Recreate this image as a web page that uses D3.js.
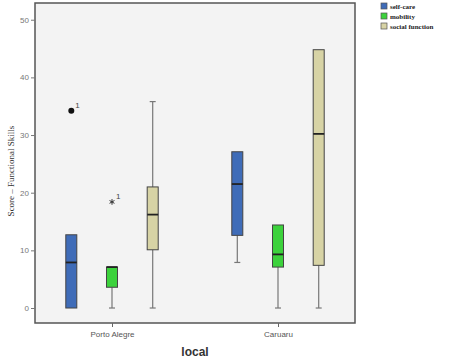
<!DOCTYPE html>
<html>
<head>
<meta charset="utf-8">
<script src="https://cdn.jsdelivr.net/npm/d3@7"></script>
<style>
  body { margin: 0; background: #fff; }
  svg { display: block; }
</style>
</head>
<body>
<svg id="chart" width="474" height="362"></svg>
<script>
// groups on the x axis and the three measures
var locals = ["Porto Alegre", "Caruaru"];
var measures = ["self-care", "mobility", "social function"];
var colors = ["#3f6cb8", "#3cd23c", "#d7d3a5"];

// five-number summaries: [lowWhisker, q1, median, q3, highWhisker]
var selfCare = [[0, 0, 7.9, 12.7, 12.7], [7.9, 12.6, 21.5, 27.1, 27.1]];
var mobility = [[0, 3.6, 7.1, 7.1, 7.1], [0, 7.1, 9.3, 14.4, 14.4]];
var socialFunction = [[0, 10.1, 16.2, 21.0, 35.8], [0, 7.4, 30.2, 44.8, 44.8]];

// outliers: [localIndex, measureIndex, value, kind, label]
var outliers = [[0, 0, 34.2, "circle", "1"], [0, 1, 18.4, "star", "1"]];

var yTicks = [0, 10, 20, 30, 40, 50];

var svg = d3.select("#chart");
var frame = { left: 35, top: 3, right: 355, bottom: 323 };

var y = d3.scaleLinear().domain([-2.6, 52.9]).range([frame.bottom, frame.top]);
var x = d3.scalePoint().domain(locals).range([112, 278]);
var xInner = d3.scalePoint().domain(measures).range([-40.7, 40.7]);

// plot background
svg.append("rect")
  .attr("x", frame.left).attr("y", frame.top)
  .attr("width", frame.right - frame.left).attr("height", frame.bottom - frame.top)
  .attr("fill", "#f3f3f3")
  .attr("stroke", "#555").attr("stroke-width", 1.5);

// y axis
var yAxis = d3.axisLeft(y).tickValues(yTicks).tickSize(4).tickPadding(2);
var gy = svg.append("g").attr("transform", "translate(" + frame.left + ",0)").call(yAxis);
gy.select(".domain").remove();
gy.selectAll("line").attr("stroke", "#777");
gy.selectAll("text").attr("fill", "#777").style("font", "8px 'Liberation Sans', Arial, sans-serif");

// x axis
var xAxis = d3.axisBottom(x).tickSize(4).tickPadding(4);
var gx = svg.append("g").attr("transform", "translate(0," + frame.bottom + ")").call(xAxis);
gx.select(".domain").remove();
gx.selectAll("line").attr("stroke", "#666");
gx.selectAll("text").attr("fill", "#555").style("font", "8px 'Liberation Sans', Arial, sans-serif");

// axis titles
svg.append("text")
  .attr("x", 195).attr("y", 356)
  .attr("text-anchor", "middle")
  .style("font", "bold 12px 'Liberation Sans', Arial, sans-serif")
  .attr("fill", "#333")
  .text("local");

svg.append("text")
  .attr("transform", "translate(14,171) rotate(-90)")
  .attr("text-anchor", "middle")
  .style("font", "9px 'Liberation Serif', 'Times New Roman', serif")
  .attr("fill", "#333")
  .text("Score – Functional Skills");

// boxes
var series = [selfCare, mobility, socialFunction];
var boxW = 11, capW = 6;

series.forEach(function(stats, m) {
  stats.forEach(function(s, l) {
    var cx = x(locals[l]) + xInner(measures[m]);
    var g = svg.append("g").attr("class", "box");

    // whiskers
    g.append("line")
      .attr("x1", cx).attr("x2", cx)
      .attr("y1", y(s[0])).attr("y2", y(s[1]))
      .attr("stroke", "#777").attr("stroke-width", 1.2);
    g.append("line")
      .attr("x1", cx).attr("x2", cx)
      .attr("y1", y(s[3])).attr("y2", y(s[4]))
      .attr("stroke", "#777").attr("stroke-width", 1.2);
    if (s[0] < s[1]) {
      g.append("line")
        .attr("x1", cx - capW / 2).attr("x2", cx + capW / 2)
        .attr("y1", y(s[0])).attr("y2", y(s[0]))
        .attr("stroke", "#777").attr("stroke-width", 1.2);
    }
    if (s[4] > s[3]) {
      g.append("line")
        .attr("x1", cx - capW / 2).attr("x2", cx + capW / 2)
        .attr("y1", y(s[4])).attr("y2", y(s[4]))
        .attr("stroke", "#777").attr("stroke-width", 1.2);
    }

    g.append("rect")
      .attr("x", cx - boxW / 2).attr("y", y(s[3]))
      .attr("width", boxW).attr("height", y(s[1]) - y(s[3]))
      .attr("fill", colors[m])
      .attr("stroke", "#444").attr("stroke-width", 1);

    g.append("line")
      .attr("x1", cx - boxW / 2).attr("x2", cx + boxW / 2)
      .attr("y1", y(s[2])).attr("y2", y(s[2]))
      .attr("stroke", "#222").attr("stroke-width", 1.8);
  });
});

// outliers
outliers.forEach(function(o) {
  var cx = x(locals[o[0]]) + xInner(measures[o[1]]);
  var cy = y(o[2]);
  if (o[3] === "circle") {
    svg.append("circle").attr("cx", cx).attr("cy", cy).attr("r", 3).attr("fill", "#111");
  } else {
    svg.append("path")
      .attr("d", d3.symbol().type(d3.symbolAsterisk).size(22)())
      .attr("transform", "translate(" + cx + "," + cy + ")")
      .attr("stroke", "#333").attr("stroke-width", 1).attr("fill", "none");
  }
  svg.append("text")
    .attr("x", cx + 4).attr("y", cy - 3)
    .style("font", "8px 'Liberation Sans', Arial, sans-serif")
    .attr("fill", "#444")
    .text(o[4]);
});

// legend
var legend = svg.append("g").attr("transform", "translate(381,0)");
measures.forEach(function(name, i) {
  var ly = 6.5 + i * 10;
  legend.append("rect")
    .attr("x", 0).attr("y", ly - 3.5)
    .attr("width", 6).attr("height", 6)
    .attr("fill", colors[i]).attr("stroke", "#555").attr("stroke-width", 0.7);
  legend.append("text")
    .attr("x", 9).attr("y", ly + 2.5)
    .style("font", "bold 7px 'Liberation Serif', 'Times New Roman', serif")
    .attr("fill", "#222")
    .text(name);
});
</script>
</body>
</html>
